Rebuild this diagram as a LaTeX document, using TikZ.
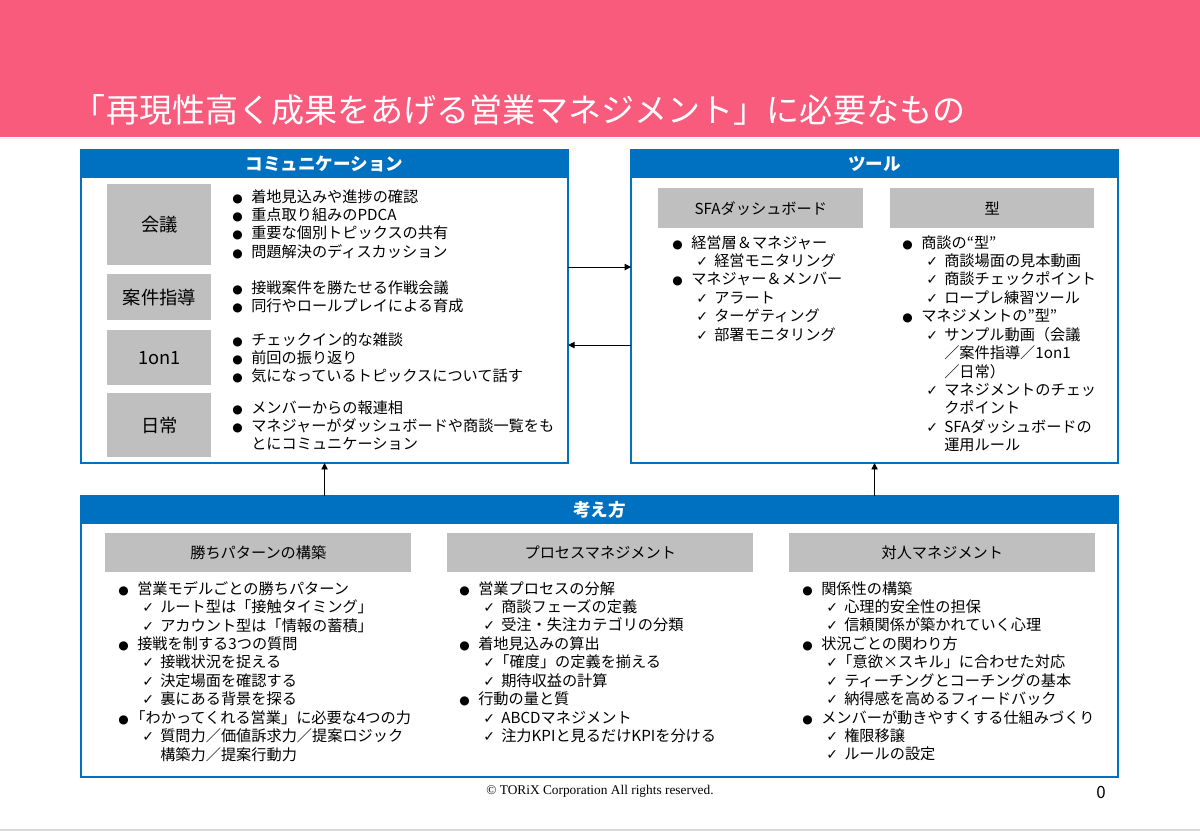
\documentclass[tikz,border=0pt]{standalone}
\usepackage{fontspec}
\setmainfont{Noto Sans CJK JP}
\newfontfamily\symf{DejaVu Sans}
\newfontfamily\footf{Liberation Serif}
\usetikzlibrary{arrows.meta}
\definecolor{headpink}{HTML}{F95B7D}
\definecolor{panelblue}{HTML}{0070C0}
\definecolor{labelgray}{HTML}{BFBFBF}
\newlength{\px}\setlength{\px}{0.025cm}
\newcommand{\bitem}[1]{\makebox[19\px][l]{\symf\fontsize{8.5}{9}\selectfont ●}#1}
\newcommand{\citem}[1]{\hspace*{24\px}\makebox[18\px][l]{\symf\fontsize{10}{10}\selectfont ✓}#1}
\newcommand{\cmore}[1]{\hspace*{42\px}#1}
\newcommand{\bmore}[1]{\hspace*{19\px}#1}
\newcommand{\lbr}{\kern-0.45em「}

\begin{document}
\begin{tikzpicture}[x=0.025cm, y=-0.025cm,
  panel/.style={draw=panelblue, line width=0.06cm, anchor=north west,
                inner sep=0pt, outer sep=0pt},
  band/.style={fill=panelblue, anchor=north west, minimum height=0.7cm,
               inner sep=0pt, outer sep=0pt, text=white,
               font=\fontsize{12.5}{14}\selectfont\bfseries},
  tag/.style={fill=labelgray, anchor=north west, inner sep=0pt,
              minimum width=2.6cm, font=\fontsize{13}{15}\selectfont},
  subhead/.style={fill=labelgray, anchor=north west, inner sep=0pt,
                  font=\fontsize{10.8}{13}\selectfont},
  items/.style={anchor=north west, inner sep=0pt, align=left,
                font=\fontsize{10.8}{13.1}\selectfont},
  link/.style={-{Triangle[length=1.6mm,width=1.6mm]}, line width=0.6pt},
]
\useasboundingbox (0,0) rectangle (1200,831);

\fill[headpink] (0,0) rectangle (1200,137);
\draw[gray!15] (0,138) -- (1200,138);
\draw[gray!30, line width=1.5pt] (0,830) -- (1200,830);
\node[anchor=west, text=white, font=\fontsize{23.5}{26}\selectfont] (title) at (68,110)
  {「再現性高く成果をあげる営業マネジメント」に必要なもの};

\node[panel, minimum width=12.175cm, minimum height=7.825cm] (comm) at (81,150) {};
\node[band, minimum width=12.175cm] (commHead) at (81,150) {コミュニケーション};
\node[panel, minimum width=12.175cm, minimum height=7.825cm] (tool) at (631,150) {};
\node[band, minimum width=12.175cm] (toolHead) at (631,150) {ツール};
\node[panel, minimum width=25.925cm, minimum height=7.025cm] (think) at (81,496) {};
\node[band, minimum width=25.925cm] (thinkHead) at (81,496) {考え方};

\node[tag, minimum height=2.025cm] (kaigi) at (107,184) {会議};
\node[tag, minimum height=1.15cm] (anken) at (107,274) {案件指導};
\node[tag, minimum height=1.375cm] (oneonone) at (107,330) {1on1};
\node[tag, minimum height=1.6cm] (nichijo) at (107,393) {日常};

\node[items] (kaigiList) at (232,189) {
  \bitem{着地見込みや進捗の確認}\\
  \bitem{重点取り組みのPDCA}\\
  \bitem{重要な個別トピックスの共有}\\
  \bitem{問題解決のディスカッション}};
\node[items] (ankenList) at (232,280) {
  \bitem{接戦案件を勝たせる作戦会議}\\
  \bitem{同行やロールプレイによる育成}};
\node[items] (oneononeList) at (232,332) {
  \bitem{チェックイン的な雑談}\\
  \bitem{前回の振り返り}\\
  \bitem{気になっているトピックスについて話す}};
\node[items] (nichijoList) at (232,400) {
  \bitem{メンバーからの報連相}\\
  \bitem{マネジャーがダッシュボードや商談一覧をも}\\
  \bmore{とにコミュニケーション}};

\node[subhead, minimum width=5.125cm, minimum height=1cm] (sfa) at (658,188) {SFAダッシュボード};
\node[subhead, minimum width=5.1cm, minimum height=1cm] (kata) at (890,188) {型};

\node[items] (sfaList) at (672,235) {
  \bitem{経営層＆マネジャー}\\
  \citem{経営モニタリング}\\
  \bitem{マネジャー＆メンバー}\\
  \citem{アラート}\\
  \citem{ターゲティング}\\
  \citem{部署モニタリング}};
\node[items] (kataList) at (902,235) {
  \bitem{商談の“型”}\\
  \citem{商談場面の見本動画}\\
  \citem{商談チェックポイント}\\
  \citem{ロープレ練習ツール}\\
  \bitem{マネジメントの”型”}\\
  \citem{サンプル動画（会議}\\
  \cmore{／案件指導／1on1}\\
  \cmore{／日常）}\\
  \citem{マネジメントのチェッ}\\
  \cmore{クポイント}\\
  \citem{SFAダッシュボードの}\\
  \cmore{運用ルール}};

\node[subhead, minimum width=7.65cm, minimum height=0.975cm] (win) at (105,533) {勝ちパターンの構築};
\node[subhead, minimum width=7.65cm, minimum height=0.975cm] (process) at (447,533) {プロセスマネジメント};
\node[subhead, minimum width=7.65cm, minimum height=0.975cm] (people) at (789,533) {対人マネジメント};

\node[items] (winList) at (118,581) {
  \bitem{営業モデルごとの勝ちパターン}\\
  \citem{ルート型は「接触タイミング」}\\
  \citem{アカウント型は「情報の蓄積」}\\
  \bitem{接戦を制する3つの質問}\\
  \citem{接戦状況を捉える}\\
  \citem{決定場面を確認する}\\
  \citem{裏にある背景を探る}\\
  \bitem{\lbr わかってくれる営業」に必要な4つの力}\\
  \citem{質問力／価値訴求力／提案ロジック}\\
  \cmore{構築力／提案行動力}};
\node[items] (processList) at (459,581) {
  \bitem{営業プロセスの分解}\\
  \citem{商談フェーズの定義}\\
  \citem{受注・失注カテゴリの分類}\\
  \bitem{着地見込みの算出}\\
  \citem{\lbr 確度」の定義を揃える}\\
  \citem{期待収益の計算}\\
  \bitem{行動の量と質}\\
  \citem{ABCDマネジメント}\\
  \citem{注力KPIと見るだけKPIを分ける}};
\node[items] (peopleList) at (802,581) {
  \bitem{関係性の構築}\\
  \citem{心理的安全性の担保}\\
  \citem{信頼関係が築かれていく心理}\\
  \bitem{状況ごとの関わり方}\\
  \citem{\lbr 意欲×スキル」に合わせた対応}\\
  \citem{ティーチングとコーチングの基本}\\
  \citem{納得感を高めるフィードバック}\\
  \bitem{メンバーが動きやすくする仕組みづくり}\\
  \citem{権限移譲}\\
  \citem{ルールの設定}};

\draw[link] ([yshift=0.9875cm]comm.east) -- ([yshift=0.9875cm]tool.west);
\draw[link] ([yshift=-0.9625cm]tool.west) -- ([yshift=-0.9625cm]comm.east);
\draw[link] (comm.south |- think.north) -- (comm.south);
\draw[link] (tool.south |- think.north) -- (tool.south);

\node[font=\footf\fontsize{9.5}{11}\selectfont] (copyright) at (600,791)
  {© TORiX Corporation All rights reserved.};
\node[font=\fontsize{12}{14}\selectfont] (pageno) at (1101,792) {0};
\end{tikzpicture}
\end{document}
